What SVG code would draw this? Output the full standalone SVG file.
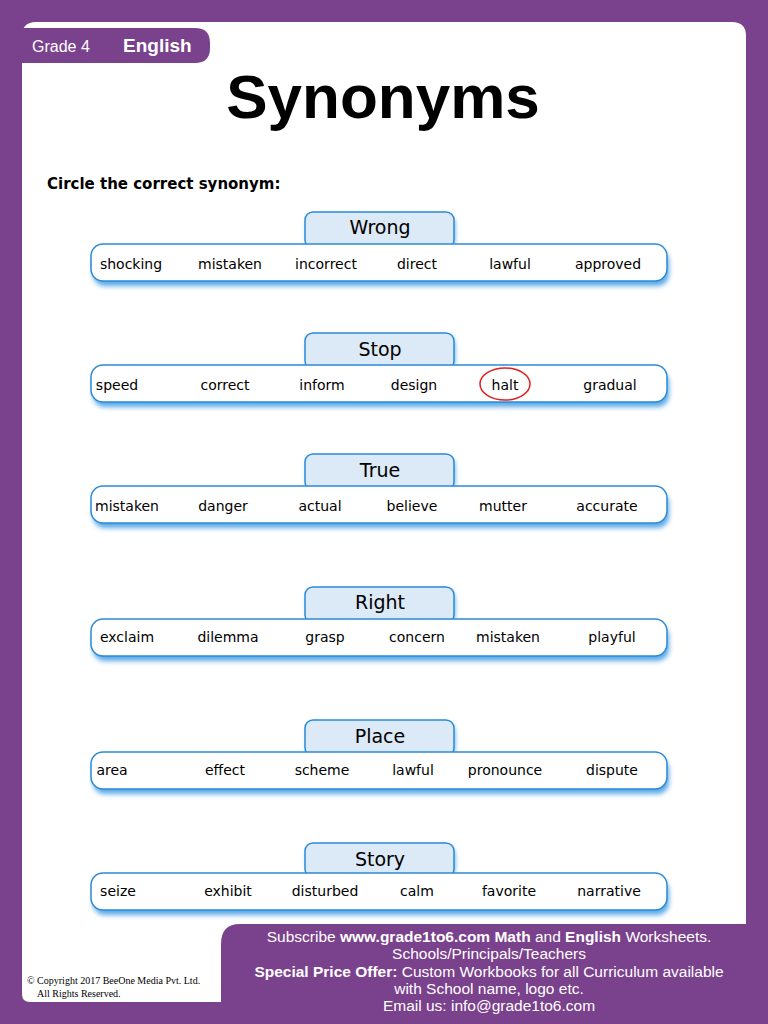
<svg xmlns="http://www.w3.org/2000/svg" width="768" height="1024" viewBox="0 0 768 1024">
<defs>
<filter id="glow" x="-10%" y="-30%" width="120%" height="180%"><feGaussianBlur stdDeviation="2.5"/></filter>
</defs>
<style>
.w{font-family:"DejaVu Sans",sans-serif;font-size:14px;fill:#000;text-anchor:middle}
.t{font-family:"DejaVu Sans",sans-serif;font-size:19px;fill:#000;text-anchor:middle}
.bar{fill:#fff;stroke:#2a8ad8;stroke-width:1.5}
.tab{fill:#dce9f6;stroke:#2a8ad8;stroke-width:1.5}
.sh{fill:#5aa9e6;filter:url(#glow)}
.f{font-family:"Liberation Sans","Open Sans",sans-serif;font-size:15.5px;fill:#fff;text-anchor:middle}
</style>
<rect width="768" height="1024" fill="#7a418c"/>
<path d="M36 22 H732 Q746 22 746 36 V924 H240 Q221 924 221 944 V1002 H30 Q22 1002 22 994 V36 Q22 22 36 22Z" fill="#fff"/>
<g id="header">
<path d="M22 28 H195 Q210 28 210 43 V48 Q210 63 195 63 H22Z" fill="#7a418c"/>
<text x="32" y="52" font-family="Liberation Sans,sans-serif" font-size="16" fill="#fff">Grade 4</text>
<text x="123" y="52" font-family="Liberation Sans,sans-serif" font-size="19" font-weight="bold" fill="#fff">English</text>
<text x="383" y="118" font-family="Liberation Sans,sans-serif" font-size="62" font-weight="bold" text-anchor="middle">Synonyms</text>
<text x="47" y="189" font-family="DejaVu Sans,sans-serif" font-size="15" font-weight="bold">Circle the correct synonym:</text>
</g>
<g id="row1">
<rect class="sh" x="93" y="250" width="576" height="36" rx="12"/><rect class="sh" x="307" y="216" width="148" height="32" rx="8"/>
<rect class="tab" x="305" y="212" width="149" height="36" rx="8"/><rect class="bar" x="91" y="244" width="576" height="37" rx="12"/>
<text class="t" x="380" y="234">Wrong</text>
<text class="w" x="131" y="269">shocking</text><text class="w" x="230" y="269">mistaken</text><text class="w" x="326" y="269">incorrect</text><text class="w" x="417" y="269">direct</text><text class="w" x="510" y="269">lawful</text><text class="w" x="608" y="269">approved</text>
</g>
<g id="row2">
<rect class="sh" x="93" y="371" width="576" height="36" rx="12"/><rect class="sh" x="307" y="337" width="148" height="32" rx="8"/>
<rect class="tab" x="305" y="333" width="149" height="36" rx="8"/><rect class="bar" x="91" y="365" width="576" height="37" rx="12"/>
<text class="t" x="380" y="356">Stop</text>
<text class="w" x="117" y="390">speed</text><text class="w" x="225" y="390">correct</text><text class="w" x="322" y="390">inform</text><text class="w" x="414" y="390">design</text><text class="w" x="505" y="390">halt</text><text class="w" x="610" y="390">gradual</text>
<ellipse cx="505" cy="384" rx="25" ry="16" fill="none" stroke="#e02020" stroke-width="1.5"/>
</g>
<g id="row3">
<rect class="sh" x="93" y="492" width="576" height="36" rx="12"/><rect class="sh" x="307" y="458" width="148" height="32" rx="8"/>
<rect class="tab" x="305" y="454" width="149" height="36" rx="8"/><rect class="bar" x="91" y="486" width="576" height="37" rx="12"/>
<text class="t" x="380" y="477">True</text>
<text class="w" x="127" y="511">mistaken</text><text class="w" x="223" y="511">danger</text><text class="w" x="320" y="511">actual</text><text class="w" x="412" y="511">believe</text><text class="w" x="503" y="511">mutter</text><text class="w" x="607" y="511">accurate</text>
</g>
<g id="row4">
<rect class="sh" x="93" y="625" width="576" height="36" rx="12"/><rect class="sh" x="307" y="591" width="148" height="32" rx="8"/>
<rect class="tab" x="305" y="587" width="149" height="36" rx="8"/><rect class="bar" x="91" y="619" width="576" height="37" rx="12"/>
<text class="t" x="380" y="609">Right</text>
<text class="w" x="127" y="642">exclaim</text><text class="w" x="228" y="642">dilemma</text><text class="w" x="325" y="642">grasp</text><text class="w" x="417" y="642">concern</text><text class="w" x="508" y="642">mistaken</text><text class="w" x="612" y="642">playful</text>
</g>
<g id="row5">
<rect class="sh" x="93" y="758" width="576" height="36" rx="12"/><rect class="sh" x="307" y="724" width="148" height="32" rx="8"/>
<rect class="tab" x="305" y="720" width="149" height="36" rx="8"/><rect class="bar" x="91" y="752" width="576" height="37" rx="12"/>
<text class="t" x="380" y="743">Place</text>
<text class="w" x="112" y="775">area</text><text class="w" x="225" y="775">effect</text><text class="w" x="322" y="775">scheme</text><text class="w" x="413" y="775">lawful</text><text class="w" x="505" y="775">pronounce</text><text class="w" x="612" y="775">dispute</text>
</g>
<g id="row6">
<rect class="sh" x="93" y="879" width="576" height="36" rx="12"/><rect class="sh" x="307" y="847" width="148" height="30" rx="8"/>
<rect class="tab" x="305" y="843" width="149" height="34" rx="8"/><rect class="bar" x="91" y="873" width="576" height="37" rx="12"/>
<text class="t" x="380" y="866">Story</text>
<text class="w" x="118" y="896">seize</text><text class="w" x="228" y="896">exhibit</text><text class="w" x="325" y="896">disturbed</text><text class="w" x="417" y="896">calm</text><text class="w" x="509" y="896">favorite</text><text class="w" x="609" y="896">narrative</text>
</g>
<g id="footer">
<text x="27" y="984" font-family="Liberation Serif,serif" font-size="10">© Copyright 2017 BeeOne Media Pvt. Ltd.</text>
<text x="37" y="997" font-family="Liberation Serif,serif" font-size="10">All Rights Reserved.</text>
<text class="f" x="489" y="942">Subscribe <tspan font-weight="bold">www.grade1to6.com Math</tspan> and <tspan font-weight="bold">English</tspan> Worksheets.</text>
<text class="f" x="489" y="959">Schools/Principals/Teachers</text>
<text class="f" x="489" y="977"><tspan font-weight="bold">Special Price Offer:</tspan> Custom Workbooks for all Curriculum available</text>
<text class="f" x="489" y="994">with School name, logo etc.</text>
<text class="f" x="489" y="1011">Email us: info@grade1to6.com</text>
</g>
</svg>
